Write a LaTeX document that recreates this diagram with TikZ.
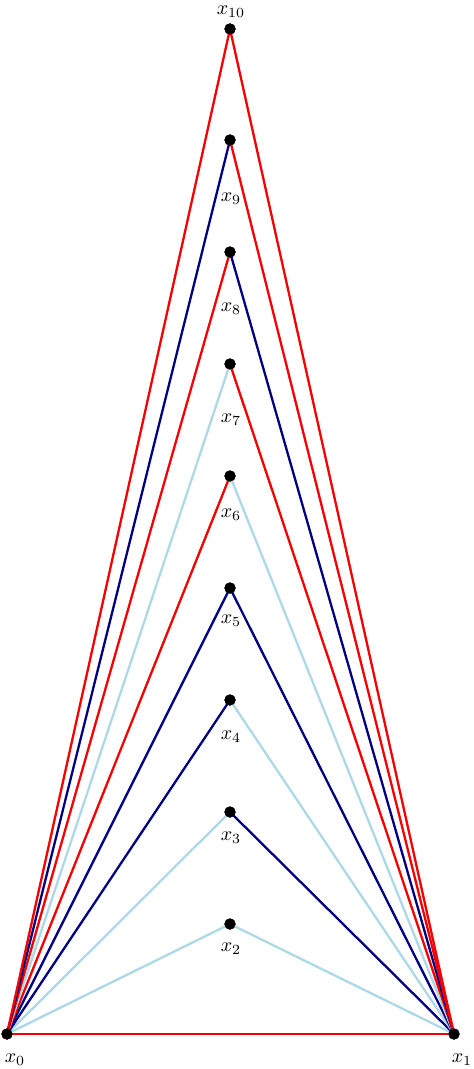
\documentclass[tikz,border=0pt]{standalone}
\definecolor{lb}{RGB}{173,216,230}
\definecolor{nv}{RGB}{0,0,128}
\definecolor{rd}{RGB}{245,0,0}
\begin{document}
\begin{tikzpicture}[x=0.5pt,y=-0.5pt,
  pt/.style={circle,fill=black,inner sep=0pt,minimum size=5.6pt},
  lbl/.style={inner sep=0pt,font=\fontsize{10}{12}\selectfont},
  eL/.style={line width=1.15pt,color=lb},
  eN/.style={line width=1.15pt,color=nv},
  eR/.style={line width=1.15pt,color=rd}]
\useasboundingbox (0,0) rectangle (474,1069);
\node[pt] (x0) at (7,1034) {};
\node[pt] (x1) at (454,1034) {};
\node[pt] (x2) at (230,924) {};
\node[pt] (x3) at (230,812) {};
\node[pt] (x4) at (230,700) {};
\node[pt] (x5) at (230,588) {};
\node[pt] (x6) at (230,476) {};
\node[pt] (x7) at (230,364) {};
\node[pt] (x8) at (230,252) {};
\node[pt] (x9) at (230,140) {};
\node[pt] (x10) at (230,29) {};
\draw[eR] (x0.center) -- (x1.center);
\draw[eL] (x0.center) -- (x2.center) -- (x1.center);
\draw[eL] (x0.center) -- (x3.center); \draw[eN] (x3.center) -- (x1.center);
\draw[eN] (x0.center) -- (x4.center); \draw[eL] (x4.center) -- (x1.center);
\draw[eN] (x0.center) -- (x5.center) -- (x1.center);
\draw[eR] (x0.center) -- (x6.center); \draw[eL] (x6.center) -- (x1.center);
\draw[eL] (x0.center) -- (x7.center); \draw[eR] (x7.center) -- (x1.center);
\draw[eR] (x0.center) -- (x8.center); \draw[eN] (x8.center) -- (x1.center);
\draw[eN] (x0.center) -- (x9.center); \draw[eR] (x9.center) -- (x1.center);
\draw[eR] (x0.center) -- (x10.center) -- (x1.center);
\foreach \n in {0,...,10} {\node[pt] at (x\n) {};}
\node[lbl] (l0) at (15,1060) {$x_{0}$};
\node[lbl] (l1) at (462,1060) {$x_{1}$};
\node[lbl] (l2) at (231,949) {$x_{2}$};
\node[lbl] (l3) at (231,838) {$x_{3}$};
\node[lbl] (l4) at (231,737) {$x_{4}$};
\node[lbl] (l5) at (231,621) {$x_{5}$};
\node[lbl] (l6) at (231,515) {$x_{6}$};
\node[lbl] (l7) at (231,420) {$x_{7}$};
\node[lbl] (l8) at (231,309) {$x_{8}$};
\node[lbl] (l9) at (231,199) {$x_{9}$};
\node[lbl] (l10) at (231,12) {$x_{10}$};
\end{tikzpicture}
\end{document}
